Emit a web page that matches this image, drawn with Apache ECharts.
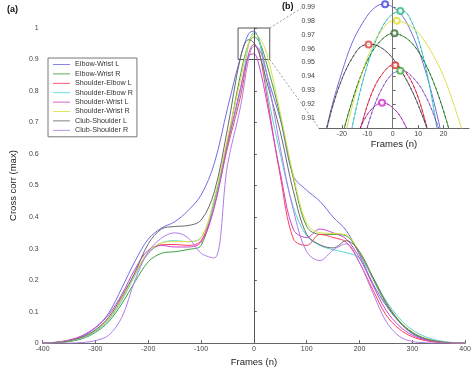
<!DOCTYPE html>
<html><head><meta charset="utf-8">
<script src="https://cdn.jsdelivr.net/npm/echarts@6/dist/echarts.min.js"></script>
<style>html,body{margin:0;padding:0;background:#fff}#c{width:474px;height:372px}</style>
</head><body><div id="c"></div>
<script>
// ---- data ----
const names = ['Elbow-Wrist L','Elbow-Wrist R','Shoulder-Elbow L','Shoulder-Elbow R','Shoulder-Wrist L','Shoulder-Wrist R','Club-Shoulder L','Club-Shoulder R'];
const colors = ['#6f6fe0','#3e9e3e','#ff3d5c','#55d6d6','#cc44cc','#dede4a','#6a6a6a','#b07ee8'];
const xs = [-400,-375,-350,-325,-300,-275,-250,-225,-200,-175,-150,-125,-100,-75,-50,-25,-10,0,10,25,50,75,100,125,150,175,200,225,250,275,300,325,350,375,400];
const ewL = [0,.002,.008,.022,.048,.095,.175,.26,.33,.365,.385,.42,.47,.57,.745,.91, .982,.99,.96, .85,.71,.53,.485,.45,.40,.357,.28,.19,.12,.068,.03,.012,.004,.001,0];
const ewR = [0,.001,.005,.014,.034,.068,.125,.195,.258,.285,.29,.297,.31,.45,.64,.855, .951,.971,.958, .882,.72,.52,.37,.345,.345,.34,.285,.205,.125,.068,.032,.014,.005,.001,0];
const seL = [0,.002,.007,.018,.04,.078,.14,.22,.285,.312,.313,.31,.325,.44,.62,.785, .918,.948,.924, .78,.53,.33,.31,.345,.335,.32,.255,.17,.09,.045,.02,.008,.002,0,0];
const seR = [0,.002,.006,.016,.037,.074,.135,.215,.285,.318,.325,.322,.335,.445,.63,.803, .947,.985,.966, .80,.60,.43,.34,.31,.296,.287,.27,.21,.135,.08,.042,.02,.008,.002,0];
const swL = [0,.003,.01,.024,.05,.09,.155,.235,.295,.31,.305,.305,.32,.43,.63,.812, .912,.918,.880, .76,.54,.36,.335,.362,.35,.33,.27,.185,.105,.055,.025,.01,.003,.001,0];
const swR = [0,.002,.007,.018,.04,.078,.14,.22,.29,.318,.322,.322,.335,.46,.65,.838, .953,.98,.971, .915,.73,.53,.38,.35,.348,.343,.29,.21,.13,.072,.035,.015,.005,.001,0];
const csL = [0,.002,.007,.019,.042,.082,.148,.225,.315,.362,.37,.373,.39,.48,.68,.909, .963,.953,.919, .826,.67,.48,.345,.312,.302,.325,.29,.21,.13,.07,.034,.014,.005,.001,0];
const csR = [0,0,0,.002,.008,.025,.082,.2,.29,.333,.35,.335,.285,.27,.565,.753, .902,.942,.934, .85,.62,.42,.29,.262,.295,.315,.255,.16,.07,.022,.005,.001,0,0,0];
const mainSeries = [ewL, ewR, seL, seR, swL, swR, csL, csR];

// inset (b)
const xsB = [-28,-24,-20,-16,-12,-8,-4,0,4,8,12,16,20,24,28];
const ewL_b = [.887,.918,.943,.964,.978,.988,.992,.990,.983,.969,.949,.923,.891,.853,.81];
const ewR_b = [.827,.864,.896,.922,.943,.958,.967,.971,.969,.963,.952,.936,.915,.889,.858];
const seL_b = [.746,.798,.842,.879,.907,.929,.942,.948,.945,.934,.913,.882,.842,.792,.73];
const seR_b = [.763,.817,.864,.903,.935,.959,.976,.985,.987,.977,.954,.918,.868,.806,.73];
const swL_b = [.78,.823,.859,.886,.906,.917,.921,.9175,.908,.891,.869,.84,.80,.76,.71];
const swR_b = [.804,.849,.887,.918,.943,.962,.974,.980,.979,.975,.967,.955,.940,.920,.897];
const csL_b = [.886,.916,.938,.953,.962,.963,.960,.953,.942,.928,.910,.889,.863,.835,.802];
const csR_b = [.711,.767,.816,.856,.889,.915,.932,.942,.944,.939,.929,.913,.891,.864,.830];
const insetSeries = [ewL_b, ewR_b, seL_b, seR_b, swL_b, swR_b, csL_b, csR_b];
const peakX = [-3, 0.7, 1, 3, -4.2, 1.6, -9.5, 3];
const peakY = [.992, .971, .948, .987, .921, .980, .963, .944];
const peakColors = ['#4040e0','#3a6a3a','#e03030','#30b880','#cc33cc','#e0e030','#e04040','#40b040'];
const fitDash = [false, true, true, true, true, false, true, true];
const fitColors = ['#111','#111','#401010','#0f7f7f','#501050','#111','#111','#301050'];
const mainXTicks = [-400,-300,-200,-100,0,100,200,300,400];
const insetXTicks = [-20,-10,0,10,20];
const insetYTicks = [0.91,0.92,0.93,0.94,0.95,0.96,0.97,0.98,0.99];

// ---- chart ----
const FONT = 'Liberation Sans, Arial, sans-serif';
const chart = echarts.init(document.getElementById('c'), null, {renderer:'canvas'});
const series = [];
mainSeries.forEach((ys, k) => {
  const s = {
    name: names[k], type: 'line', xAxisIndex: 0, yAxisIndex: 0,
    data: xs.map((x, i) => [x, ys[i]]),
    symbol: 'none', smooth: 0.35,
    lineStyle: {color: colors[k], width: 1}, itemStyle: {color: colors[k]},
    emphasis: {disabled: true}, silent: true, z: 2
  };
  if (k === 0) {
    s.markLine = {silent: true, symbol: 'none', label: {show: false},
      lineStyle: {color: '#555', width: 1, type: 'solid'}, data: [{xAxis: 0}]};
    s.markArea = {silent: true, itemStyle: {color: 'rgba(0,0,0,0)', borderColor: '#555', borderWidth: 1},
      data: [[{coord: [-30, 0.9]}, {coord: [30, 1.0]}]]};
  }
  series.push(s);
});
insetSeries.forEach((ys, k) => {
  const s = {
    name: 'b' + k, type: 'line', xAxisIndex: 1, yAxisIndex: 1,
    data: xsB.map((x, i) => [x, ys[i]]),
    symbol: 'none', smooth: 0.35, clip: true,
    lineStyle: {color: colors[k], width: 1}, emphasis: {disabled: true}, silent: true, z: 3
  };
  if (k === 0) {
    s.markLine = {silent: true, symbol: 'none', label: {show: false},
      lineStyle: {color: '#777', width: 1, type: 'solid'}, data: [{xAxis: 0}]};
  }
  series.push(s);
  if (fitDash[k]) {
    series.push({
      name: 'fit' + k, type: 'line', xAxisIndex: 1, yAxisIndex: 1,
      data: xsB.map((x, i) => [x, ys[i]]),
      symbol: 'none', smooth: 0.35, clip: true,
      lineStyle: {color: fitColors[k], width: 1, type: [2, 3], opacity: 0.55},
      emphasis: {disabled: true}, silent: true, z: 4
    });
  }
});
peakX.forEach((x, k) => {
  series.push({
    name: 'pk' + k, type: 'scatter', xAxisIndex: 1, yAxisIndex: 1,
    data: [[x, peakY[k]]], symbol: 'emptyCircle', symbolSize: 6,
    itemStyle: {color: peakColors[k], borderColor: peakColors[k], borderWidth: 1},
    emphasis: {disabled: true}, silent: true, z: 5
  });
});

const axisCommon = {
  axisLine: {show: true, lineStyle: {color: '#666', width: 1}},
  axisTick: {show: true, inside: true, length: 3, lineStyle: {color: '#666'}},
  splitLine: {show: false}
};

chart.setOption({
  animation: false,
  backgroundColor: '#fff',
  textStyle: {fontFamily: FONT},
  grid: [
    {left: 23, right: 5, top: 28, bottom: 19, containLabel: false},
    {left: 319, right: 5, top: 0, bottom: 244, containLabel: false}
  ],
  legend: {
    data: names, orient: 'vertical', left: 48, top: 58,
    itemWidth: 17, itemHeight: 7, itemGap: 2.4,
    padding: [3, 4, 3, 5],
    borderColor: '#777', borderWidth: 1, backgroundColor: '#fff',
    textStyle: {fontSize: 7.2, color: '#333', fontFamily: FONT},
    selectedMode: false, icon: 'path://M0,5 L20,5 L20,6 L0,6 Z'
  },
  xAxis: [
    Object.assign({}, axisCommon, {
      type: 'value', gridIndex: 0, min: -400, max: 400, interval: 100,
      name: 'Frames (n)', nameLocation: 'middle', nameGap: 10,
      nameTextStyle: {fontSize: 9.5, color: '#222', fontFamily: FONT},
      axisLabel: {fontSize: 7, color: '#444', margin: 2, customValues: mainXTicks},
      axisTick: {show: true, inside: true, length: 3, lineStyle: {color: '#666'}, customValues: mainXTicks}
    }),
    Object.assign({}, axisCommon, {
      type: 'value', gridIndex: 1, min: -29, max: 30,
      name: 'Frames (n)', nameLocation: 'middle', nameGap: 10,
      nameTextStyle: {fontSize: 9.5, color: '#222', fontFamily: FONT},
      axisLabel: {fontSize: 7, color: '#444', margin: 3, customValues: insetXTicks},
      axisTick: {show: true, inside: true, length: 3, lineStyle: {color: '#666'}, customValues: insetXTicks}
    })
  ],
  yAxis: [
    Object.assign({}, axisCommon, {
      type: 'value', gridIndex: 0, min: 0, max: 1, interval: 0.1,
      name: 'Cross corr (max)', nameLocation: 'middle', nameGap: 13, nameRotate: 90,
      nameTextStyle: {fontSize: 9.5, color: '#222', fontFamily: FONT},
      axisLabel: {fontSize: 7, color: '#444', margin: 4,
        formatter: v => String(Math.round(v * 10) / 10)}
    }),
    Object.assign({}, axisCommon, {
      type: 'value', gridIndex: 1, min: 0.9028, max: 0.995,
      axisLabel: {fontSize: 7, color: '#444', margin: 4, customValues: insetYTicks,
        formatter: v => v.toFixed(2)},
      axisTick: {show: true, inside: true, length: 3, lineStyle: {color: '#666'}, customValues: insetYTicks}
    })
  ],
  series: series
});

// connector lines from the zoom rectangle to the inset (positions from the axes' scales)
const inIdx = 8; // first inset series index
const a1 = chart.convertToPixel({seriesIndex: 0}, [30, 0.9]);
const b1 = chart.convertToPixel({seriesIndex: inIdx}, [-29, 0.9028]);
const a2 = chart.convertToPixel({seriesIndex: 0}, [30, 1.0]);
const b2 = chart.convertToPixel({seriesIndex: inIdx}, [-36, 0.989]);
const dotted = {stroke: '#999', lineWidth: 1, lineDash: [2, 2]};
chart.setOption({
  graphic: [
    {type: 'line', shape: {x1: a1[0], y1: a1[1], x2: b1[0], y2: b1[1]}, style: dotted, silent: true, z: 1},
    {type: 'line', shape: {x1: a2[0], y1: a2[1], x2: b2[0], y2: b2[1]}, style: dotted, silent: true, z: 1},
    {type: 'text', left: 7, top: 5, style: {text: '(a)', fontSize: 9, fontWeight: 'bold', fill: '#111', fontFamily: FONT}},
    {type: 'text', left: 282, top: 2, style: {text: '(b)', fontSize: 9, fontWeight: 'bold', fill: '#111', fontFamily: FONT}}
  ]
});
</script>
</body></html>
